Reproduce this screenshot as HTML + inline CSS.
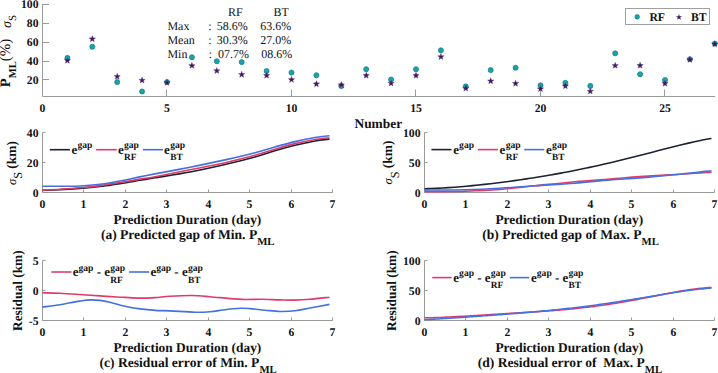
<!DOCTYPE html>
<html><head><meta charset="utf-8"><style>
html,body{margin:0;padding:0;background:#fff;}
svg{display:block;}
text{font-family:"Liberation Serif", serif;fill:#111;text-rendering:geometricPrecision;}
</style></head><body>
<svg width="718" height="373" viewBox="0 0 718 373">
<rect width="718" height="373" fill="#fff"/>
<g stroke="#9a9a9a" stroke-width="1" fill="none">
<path d="M42.5,4 V96.5 H715"/>
<path d="M42.5,79.5 H49"/>
<path d="M42.5,61.5 H49"/>
<path d="M42.5,42.5 H49"/>
<path d="M42.5,23.5 H49"/>
<path d="M42.5,4.5 H49"/>
<path d="M166.5,96.5 V89.5"/>
<path d="M291.5,96.5 V89.5"/>
<path d="M415.5,96.5 V89.5"/>
<path d="M540.5,96.5 V89.5"/>
<path d="M664.5,96.5 V89.5"/>
</g>
<text x="38.50" y="84.08" font-size="11.70" text-anchor="end" font-weight="bold">20</text>
<text x="38.50" y="65.16" font-size="11.70" text-anchor="end" font-weight="bold">40</text>
<text x="38.50" y="46.24" font-size="11.70" text-anchor="end" font-weight="bold">60</text>
<text x="38.50" y="27.32" font-size="11.70" text-anchor="end" font-weight="bold">80</text>
<text x="38.50" y="8.40" font-size="11.70" text-anchor="end" font-weight="bold">100</text>
<text x="42.50" y="112.00" font-size="11.70" text-anchor="middle" font-weight="bold">0</text>
<text x="167.00" y="112.00" font-size="11.70" text-anchor="middle" font-weight="bold">5</text>
<text x="291.50" y="112.00" font-size="11.70" text-anchor="middle" font-weight="bold">10</text>
<text x="416.00" y="112.00" font-size="11.70" text-anchor="middle" font-weight="bold">15</text>
<text x="540.50" y="112.00" font-size="11.70" text-anchor="middle" font-weight="bold">20</text>
<text x="665.00" y="112.00" font-size="11.70" text-anchor="middle" font-weight="bold">25</text>
<text x="378.30" y="128.30" font-size="13.40" text-anchor="middle" font-weight="bold">Number</text>
<g transform="translate(9.6,87.2) rotate(-90)">
<text x="0" y="0" font-size="14.5" font-weight="bold">P<tspan font-size="10.6" dy="6.4">ML</tspan><tspan dy="-6.4" font-weight="normal" font-size="15">(%)</tspan></text>
</g>
<g transform="translate(10.5,28) rotate(-90)">
<text x="0" y="0" font-size="14" font-style="italic">&#963;<tspan font-size="11" dy="5.5" font-style="normal">S</tspan></text>
</g>
<text x="228.00" y="15.60" font-size="12.00" text-anchor="start">RF</text>
<text x="273.60" y="15.60" font-size="12.00" text-anchor="start">BT</text>
<text x="167.40" y="30.10" font-size="12.00" text-anchor="start">Max</text>
<text x="208.30" y="30.10" font-size="12.00" text-anchor="start">:</text>
<text x="216.80" y="30.10" font-size="12.00" text-anchor="start">58.6%</text>
<text x="260.30" y="30.10" font-size="12.00" text-anchor="start">63.6%</text>
<text x="167.40" y="44.10" font-size="12.00" text-anchor="start">Mean</text>
<text x="208.30" y="44.10" font-size="12.00" text-anchor="start">:</text>
<text x="216.80" y="44.10" font-size="12.00" text-anchor="start">30.3%</text>
<text x="260.30" y="44.10" font-size="12.00" text-anchor="start">27.0%</text>
<text x="167.40" y="57.90" font-size="12.00" text-anchor="start">Min</text>
<text x="208.80" y="57.90" font-size="12.00" text-anchor="start">:</text>
<text x="218.00" y="57.90" font-size="12.00" text-anchor="start">07.7%</text>
<text x="261.30" y="57.90" font-size="12.00" text-anchor="start">08.6%</text>
<circle cx="67.40" cy="57.90" r="2.55" fill="#16a6aa" stroke="#0c6e74" stroke-width="0.6"/>
<circle cx="92.30" cy="46.70" r="2.55" fill="#16a6aa" stroke="#0c6e74" stroke-width="0.6"/>
<circle cx="117.20" cy="82.10" r="2.55" fill="#16a6aa" stroke="#0c6e74" stroke-width="0.6"/>
<circle cx="142.10" cy="91.50" r="2.55" fill="#16a6aa" stroke="#0c6e74" stroke-width="0.6"/>
<circle cx="167.00" cy="82.10" r="2.55" fill="#16a6aa" stroke="#0c6e74" stroke-width="0.6"/>
<circle cx="191.90" cy="57.20" r="2.55" fill="#16a6aa" stroke="#0c6e74" stroke-width="0.6"/>
<circle cx="216.80" cy="61.20" r="2.55" fill="#16a6aa" stroke="#0c6e74" stroke-width="0.6"/>
<circle cx="241.70" cy="62.10" r="2.55" fill="#16a6aa" stroke="#0c6e74" stroke-width="0.6"/>
<circle cx="266.60" cy="71.00" r="2.55" fill="#16a6aa" stroke="#0c6e74" stroke-width="0.6"/>
<circle cx="291.50" cy="72.60" r="2.55" fill="#16a6aa" stroke="#0c6e74" stroke-width="0.6"/>
<circle cx="316.40" cy="75.20" r="2.55" fill="#16a6aa" stroke="#0c6e74" stroke-width="0.6"/>
<circle cx="341.30" cy="86.10" r="2.55" fill="#16a6aa" stroke="#0c6e74" stroke-width="0.6"/>
<circle cx="366.20" cy="69.20" r="2.55" fill="#16a6aa" stroke="#0c6e74" stroke-width="0.6"/>
<circle cx="391.10" cy="79.50" r="2.55" fill="#16a6aa" stroke="#0c6e74" stroke-width="0.6"/>
<circle cx="416.00" cy="69.20" r="2.55" fill="#16a6aa" stroke="#0c6e74" stroke-width="0.6"/>
<circle cx="440.90" cy="50.30" r="2.55" fill="#16a6aa" stroke="#0c6e74" stroke-width="0.6"/>
<circle cx="465.80" cy="86.40" r="2.55" fill="#16a6aa" stroke="#0c6e74" stroke-width="0.6"/>
<circle cx="490.70" cy="70.10" r="2.55" fill="#16a6aa" stroke="#0c6e74" stroke-width="0.6"/>
<circle cx="515.60" cy="67.70" r="2.55" fill="#16a6aa" stroke="#0c6e74" stroke-width="0.6"/>
<circle cx="540.50" cy="85.30" r="2.55" fill="#16a6aa" stroke="#0c6e74" stroke-width="0.6"/>
<circle cx="565.40" cy="82.80" r="2.55" fill="#16a6aa" stroke="#0c6e74" stroke-width="0.6"/>
<circle cx="590.30" cy="85.90" r="2.55" fill="#16a6aa" stroke="#0c6e74" stroke-width="0.6"/>
<circle cx="615.20" cy="53.30" r="2.55" fill="#16a6aa" stroke="#0c6e74" stroke-width="0.6"/>
<circle cx="640.10" cy="74.20" r="2.55" fill="#16a6aa" stroke="#0c6e74" stroke-width="0.6"/>
<circle cx="665.00" cy="80.00" r="2.55" fill="#16a6aa" stroke="#0c6e74" stroke-width="0.6"/>
<circle cx="689.90" cy="59.20" r="2.55" fill="#16a6aa" stroke="#0c6e74" stroke-width="0.6"/>
<circle cx="714.80" cy="43.60" r="2.55" fill="#16a6aa" stroke="#0c6e74" stroke-width="0.6"/>
<path d="M67.40,57.30 L68.22,59.47 L70.54,59.58 L68.73,61.03 L69.34,63.27 L67.40,62.00 L65.46,63.27 L66.07,61.03 L64.26,59.58 L66.58,59.47Z" fill="#3d1a60" stroke="#5a3a80" stroke-width="0.4"/>
<path d="M92.30,35.70 L93.12,37.87 L95.44,37.98 L93.63,39.43 L94.24,41.67 L92.30,40.40 L90.36,41.67 L90.97,39.43 L89.16,37.98 L91.48,37.87Z" fill="#3d1a60" stroke="#5a3a80" stroke-width="0.4"/>
<path d="M117.20,73.30 L118.02,75.47 L120.34,75.58 L118.53,77.03 L119.14,79.27 L117.20,78.00 L115.26,79.27 L115.87,77.03 L114.06,75.58 L116.38,75.47Z" fill="#3d1a60" stroke="#5a3a80" stroke-width="0.4"/>
<path d="M142.10,77.10 L142.92,79.27 L145.24,79.38 L143.43,80.83 L144.04,83.07 L142.10,81.80 L140.16,83.07 L140.77,80.83 L138.96,79.38 L141.28,79.27Z" fill="#3d1a60" stroke="#5a3a80" stroke-width="0.4"/>
<path d="M167.00,79.30 L167.82,81.47 L170.14,81.58 L168.33,83.03 L168.94,85.27 L167.00,84.00 L165.06,85.27 L165.67,83.03 L163.86,81.58 L166.18,81.47Z" fill="#3d1a60" stroke="#5a3a80" stroke-width="0.4"/>
<path d="M191.90,62.40 L192.72,64.57 L195.04,64.68 L193.23,66.13 L193.84,68.37 L191.90,67.10 L189.96,68.37 L190.57,66.13 L188.76,64.68 L191.08,64.57Z" fill="#3d1a60" stroke="#5a3a80" stroke-width="0.4"/>
<path d="M216.80,67.50 L217.62,69.67 L219.94,69.78 L218.13,71.23 L218.74,73.47 L216.80,72.20 L214.86,73.47 L215.47,71.23 L213.66,69.78 L215.98,69.67Z" fill="#3d1a60" stroke="#5a3a80" stroke-width="0.4"/>
<path d="M241.70,71.30 L242.52,73.47 L244.84,73.58 L243.03,75.03 L243.64,77.27 L241.70,76.00 L239.76,77.27 L240.37,75.03 L238.56,73.58 L240.88,73.47Z" fill="#3d1a60" stroke="#5a3a80" stroke-width="0.4"/>
<path d="M266.60,72.20 L267.42,74.37 L269.74,74.48 L267.93,75.93 L268.54,78.17 L266.60,76.90 L264.66,78.17 L265.27,75.93 L263.46,74.48 L265.78,74.37Z" fill="#3d1a60" stroke="#5a3a80" stroke-width="0.4"/>
<path d="M291.50,76.40 L292.32,78.57 L294.64,78.68 L292.83,80.13 L293.44,82.37 L291.50,81.10 L289.56,82.37 L290.17,80.13 L288.36,78.68 L290.68,78.57Z" fill="#3d1a60" stroke="#5a3a80" stroke-width="0.4"/>
<path d="M316.40,80.70 L317.22,82.87 L319.54,82.98 L317.73,84.43 L318.34,86.67 L316.40,85.40 L314.46,86.67 L315.07,84.43 L313.26,82.98 L315.58,82.87Z" fill="#3d1a60" stroke="#5a3a80" stroke-width="0.4"/>
<path d="M341.30,81.60 L342.12,83.77 L344.44,83.88 L342.63,85.33 L343.24,87.57 L341.30,86.30 L339.36,87.57 L339.97,85.33 L338.16,83.88 L340.48,83.77Z" fill="#3d1a60" stroke="#5a3a80" stroke-width="0.4"/>
<path d="M366.20,72.20 L367.02,74.37 L369.34,74.48 L367.53,75.93 L368.14,78.17 L366.20,76.90 L364.26,78.17 L364.87,75.93 L363.06,74.48 L365.38,74.37Z" fill="#3d1a60" stroke="#5a3a80" stroke-width="0.4"/>
<path d="M391.10,80.00 L391.92,82.17 L394.24,82.28 L392.43,83.73 L393.04,85.97 L391.10,84.70 L389.16,85.97 L389.77,83.73 L387.96,82.28 L390.28,82.17Z" fill="#3d1a60" stroke="#5a3a80" stroke-width="0.4"/>
<path d="M416.00,72.20 L416.82,74.37 L419.14,74.48 L417.33,75.93 L417.94,78.17 L416.00,76.90 L414.06,78.17 L414.67,75.93 L412.86,74.48 L415.18,74.37Z" fill="#3d1a60" stroke="#5a3a80" stroke-width="0.4"/>
<path d="M440.90,53.50 L441.72,55.67 L444.04,55.78 L442.23,57.23 L442.84,59.47 L440.90,58.20 L438.96,59.47 L439.57,57.23 L437.76,55.78 L440.08,55.67Z" fill="#3d1a60" stroke="#5a3a80" stroke-width="0.4"/>
<path d="M465.80,85.10 L466.62,87.27 L468.94,87.38 L467.13,88.83 L467.74,91.07 L465.80,89.80 L463.86,91.07 L464.47,88.83 L462.66,87.38 L464.98,87.27Z" fill="#3d1a60" stroke="#5a3a80" stroke-width="0.4"/>
<path d="M490.70,77.80 L491.52,79.97 L493.84,80.08 L492.03,81.53 L492.64,83.77 L490.70,82.50 L488.76,83.77 L489.37,81.53 L487.56,80.08 L489.88,79.97Z" fill="#3d1a60" stroke="#5a3a80" stroke-width="0.4"/>
<path d="M515.60,80.20 L516.42,82.37 L518.74,82.48 L516.93,83.93 L517.54,86.17 L515.60,84.90 L513.66,86.17 L514.27,83.93 L512.46,82.48 L514.78,82.37Z" fill="#3d1a60" stroke="#5a3a80" stroke-width="0.4"/>
<path d="M540.50,85.60 L541.32,87.77 L543.64,87.88 L541.83,89.33 L542.44,91.57 L540.50,90.30 L538.56,91.57 L539.17,89.33 L537.36,87.88 L539.68,87.77Z" fill="#3d1a60" stroke="#5a3a80" stroke-width="0.4"/>
<path d="M565.40,82.70 L566.22,84.87 L568.54,84.98 L566.73,86.43 L567.34,88.67 L565.40,87.40 L563.46,88.67 L564.07,86.43 L562.26,84.98 L564.58,84.87Z" fill="#3d1a60" stroke="#5a3a80" stroke-width="0.4"/>
<path d="M590.30,88.00 L591.12,90.17 L593.44,90.28 L591.63,91.73 L592.24,93.97 L590.30,92.70 L588.36,93.97 L588.97,91.73 L587.16,90.28 L589.48,90.17Z" fill="#3d1a60" stroke="#5a3a80" stroke-width="0.4"/>
<path d="M615.20,62.30 L616.02,64.47 L618.34,64.58 L616.53,66.03 L617.14,68.27 L615.20,67.00 L613.26,68.27 L613.87,66.03 L612.06,64.58 L614.38,64.47Z" fill="#3d1a60" stroke="#5a3a80" stroke-width="0.4"/>
<path d="M640.10,62.20 L640.92,64.37 L643.24,64.48 L641.43,65.93 L642.04,68.17 L640.10,66.90 L638.16,68.17 L638.77,65.93 L636.96,64.48 L639.28,64.37Z" fill="#3d1a60" stroke="#5a3a80" stroke-width="0.4"/>
<path d="M665.00,80.20 L665.82,82.37 L668.14,82.48 L666.33,83.93 L666.94,86.17 L665.00,84.90 L663.06,86.17 L663.67,83.93 L661.86,82.48 L664.18,82.37Z" fill="#3d1a60" stroke="#5a3a80" stroke-width="0.4"/>
<path d="M689.90,56.40 L690.72,58.57 L693.04,58.68 L691.23,60.13 L691.84,62.37 L689.90,61.10 L687.96,62.37 L688.57,60.13 L686.76,58.68 L689.08,58.57Z" fill="#3d1a60" stroke="#5a3a80" stroke-width="0.4"/>
<path d="M714.80,40.80 L715.62,42.97 L717.94,43.08 L716.13,44.53 L716.74,46.77 L714.80,45.50 L712.86,46.77 L713.47,44.53 L711.66,43.08 L713.98,42.97Z" fill="#3d1a60" stroke="#5a3a80" stroke-width="0.4"/>
<rect x="625.5" y="8.5" width="84" height="16" fill="#fff" stroke="#a0a0a0" stroke-width="1"/>
<circle cx="637.2" cy="16.9" r="2.3" fill="#16a6aa" stroke="#0c6e74" stroke-width="0.6"/>
<text x="649.40" y="21.20" font-size="11.70" text-anchor="start" font-weight="bold">RF</text>
<path d="M679.00,14.00 L679.76,16.15 L682.04,16.21 L680.24,17.60 L680.88,19.79 L679.00,18.50 L677.12,19.79 L677.76,17.60 L675.96,16.21 L678.24,16.15Z" fill="#3d1a60"/>
<text x="691.00" y="21.20" font-size="11.70" text-anchor="start" font-weight="bold">BT</text>
<g stroke="#9a9a9a" stroke-width="1" fill="none">
<path d="M42.5,132.5 V192.5 H332.5"/>
<path d="M42.5,192.5 H45.5"/>
<path d="M42.5,162.5 H45.5"/>
<path d="M42.5,132.5 H45.5"/>
<path d="M42.5,192.5 V189.5"/>
<path d="M83.5,192.5 V189.5"/>
<path d="M125.5,192.5 V189.5"/>
<path d="M166.5,192.5 V189.5"/>
<path d="M208.5,192.5 V189.5"/>
<path d="M249.5,192.5 V189.5"/>
<path d="M291.5,192.5 V189.5"/>
<path d="M332.5,192.5 V189.5"/>
</g>
<text x="38.50" y="196.70" font-size="11.70" text-anchor="end" font-weight="bold">0</text>
<text x="38.50" y="166.70" font-size="11.70" text-anchor="end" font-weight="bold">20</text>
<text x="38.50" y="136.70" font-size="11.70" text-anchor="end" font-weight="bold">40</text>
<text x="42.50" y="207.80" font-size="11.70" text-anchor="middle" font-weight="bold">0</text>
<text x="83.50" y="207.80" font-size="11.70" text-anchor="middle" font-weight="bold">1</text>
<text x="125.50" y="207.80" font-size="11.70" text-anchor="middle" font-weight="bold">2</text>
<text x="166.50" y="207.80" font-size="11.70" text-anchor="middle" font-weight="bold">3</text>
<text x="208.50" y="207.80" font-size="11.70" text-anchor="middle" font-weight="bold">4</text>
<text x="249.50" y="207.80" font-size="11.70" text-anchor="middle" font-weight="bold">5</text>
<text x="291.50" y="207.80" font-size="11.70" text-anchor="middle" font-weight="bold">6</text>
<text x="332.50" y="207.80" font-size="11.70" text-anchor="middle" font-weight="bold">7</text>
<path d="M42.40,190.40 C45.33,190.30 53.73,190.13 60.00,189.80 C66.27,189.47 73.33,188.97 80.00,188.40 C86.67,187.83 93.33,187.20 100.00,186.40 C106.67,185.60 113.33,184.62 120.00,183.60 C126.67,182.58 134.17,181.27 140.00,180.30 C145.83,179.33 146.67,179.18 155.00,177.80 C163.33,176.42 178.33,174.22 190.00,172.00 C201.67,169.78 214.17,167.00 225.00,164.50 C235.83,162.00 246.67,159.28 255.00,157.00 C263.33,154.72 268.33,152.75 275.00,150.80 C281.67,148.85 288.33,146.93 295.00,145.30 C301.67,143.67 309.25,142.03 315.00,141.00 C320.75,139.97 327.08,139.42 329.50,139.10" fill="none" stroke="#1b2130" stroke-width="1.60" stroke-linecap="butt"/>
<path d="M42.40,190.10 C45.33,189.95 53.73,189.58 60.00,189.20 C66.27,188.82 73.33,188.40 80.00,187.80 C86.67,187.20 93.33,186.48 100.00,185.60 C106.67,184.72 113.33,183.58 120.00,182.50 C126.67,181.42 134.17,180.07 140.00,179.10 C145.83,178.13 146.67,178.25 155.00,176.70 C163.33,175.15 178.33,172.13 190.00,169.80 C201.67,167.47 214.17,165.12 225.00,162.70 C235.83,160.28 246.67,157.55 255.00,155.30 C263.33,153.05 268.33,151.15 275.00,149.20 C281.67,147.25 288.33,145.22 295.00,143.60 C301.67,141.98 309.25,140.47 315.00,139.50 C320.75,138.53 327.08,138.08 329.50,137.80" fill="none" stroke="#e03a6a" stroke-width="1.60" stroke-linecap="butt"/>
<path d="M42.40,186.20 C45.33,186.22 53.73,186.33 60.00,186.30 C66.27,186.27 73.33,186.35 80.00,186.00 C86.67,185.65 93.33,185.03 100.00,184.20 C106.67,183.37 113.33,182.22 120.00,181.00 C126.67,179.78 134.17,178.08 140.00,176.90 C145.83,175.72 146.67,175.52 155.00,173.90 C163.33,172.28 178.33,169.53 190.00,167.20 C201.67,164.87 214.17,162.32 225.00,159.90 C235.83,157.48 246.67,154.87 255.00,152.70 C263.33,150.53 268.33,148.75 275.00,146.90 C281.67,145.05 288.33,143.17 295.00,141.60 C301.67,140.03 309.25,138.47 315.00,137.50 C320.75,136.53 327.08,136.08 329.50,135.80" fill="none" stroke="#4470e0" stroke-width="1.60" stroke-linecap="butt"/>
<g stroke="#9a9a9a" stroke-width="1" fill="none">
<path d="M424.5,132.5 V192.5 H714.5"/>
<path d="M424.5,192.5 H427.5"/>
<path d="M424.5,162.5 H427.5"/>
<path d="M424.5,132.5 H427.5"/>
<path d="M424.5,192.5 V189.5"/>
<path d="M465.5,192.5 V189.5"/>
<path d="M507.5,192.5 V189.5"/>
<path d="M548.5,192.5 V189.5"/>
<path d="M590.5,192.5 V189.5"/>
<path d="M631.5,192.5 V189.5"/>
<path d="M673.5,192.5 V189.5"/>
<path d="M714.5,192.5 V189.5"/>
</g>
<text x="420.50" y="196.70" font-size="11.70" text-anchor="end" font-weight="bold">0</text>
<text x="420.50" y="166.70" font-size="11.70" text-anchor="end" font-weight="bold">50</text>
<text x="420.50" y="136.70" font-size="11.70" text-anchor="end" font-weight="bold">100</text>
<text x="424.50" y="207.80" font-size="11.70" text-anchor="middle" font-weight="bold">0</text>
<text x="465.50" y="207.80" font-size="11.70" text-anchor="middle" font-weight="bold">1</text>
<text x="507.50" y="207.80" font-size="11.70" text-anchor="middle" font-weight="bold">2</text>
<text x="548.50" y="207.80" font-size="11.70" text-anchor="middle" font-weight="bold">3</text>
<text x="590.50" y="207.80" font-size="11.70" text-anchor="middle" font-weight="bold">4</text>
<text x="631.50" y="207.80" font-size="11.70" text-anchor="middle" font-weight="bold">5</text>
<text x="673.50" y="207.80" font-size="11.70" text-anchor="middle" font-weight="bold">6</text>
<text x="714.50" y="207.80" font-size="11.70" text-anchor="middle" font-weight="bold">7</text>
<path d="M424.50,188.71 C425.50,188.68 428.50,188.62 430.50,188.56 C432.50,188.49 434.50,188.41 436.50,188.33 C438.50,188.24 440.50,188.13 442.50,188.02 C444.50,187.91 446.50,187.79 448.50,187.65 C450.50,187.52 452.50,187.38 454.50,187.23 C456.50,187.08 458.50,186.92 460.50,186.75 C462.50,186.58 464.50,186.41 466.50,186.22 C468.50,186.04 470.50,185.85 472.50,185.65 C474.50,185.45 476.50,185.25 478.50,185.04 C480.50,184.83 482.50,184.61 484.50,184.39 C486.50,184.17 488.50,183.94 490.50,183.70 C492.50,183.47 494.50,183.22 496.50,182.98 C498.50,182.73 500.50,182.48 502.50,182.22 C504.50,181.96 506.50,181.70 508.50,181.43 C510.50,181.16 512.50,180.89 514.50,180.61 C516.50,180.33 518.50,180.05 520.50,179.75 C522.50,179.46 524.50,179.17 526.50,178.87 C528.50,178.56 530.50,178.26 532.50,177.94 C534.50,177.63 536.50,177.31 538.50,176.99 C540.50,176.66 542.50,176.33 544.50,176.00 C546.50,175.66 548.50,175.32 550.50,174.97 C552.50,174.62 554.50,174.27 556.50,173.91 C558.50,173.55 560.50,173.18 562.50,172.81 C564.50,172.44 566.50,172.06 568.50,171.67 C570.50,171.29 572.50,170.90 574.50,170.50 C576.50,170.10 578.50,169.70 580.50,169.29 C582.50,168.88 584.50,168.46 586.50,168.04 C588.50,167.61 590.50,167.18 592.50,166.75 C594.50,166.31 596.50,165.87 598.50,165.42 C600.50,164.97 602.50,164.52 604.50,164.06 C606.50,163.60 608.50,163.13 610.50,162.66 C612.50,162.19 614.50,161.71 616.50,161.23 C618.50,160.75 620.50,160.26 622.50,159.77 C624.50,159.28 626.50,158.78 628.50,158.28 C630.50,157.78 632.50,157.28 634.50,156.77 C636.50,156.26 638.50,155.75 640.50,155.24 C642.50,154.73 644.50,154.21 646.50,153.70 C648.50,153.18 650.50,152.66 652.50,152.15 C654.50,151.63 656.50,151.11 658.50,150.59 C660.50,150.08 662.50,149.56 664.50,149.05 C666.50,148.54 668.50,148.03 670.50,147.52 C672.50,147.02 674.50,146.52 676.50,146.02 C678.50,145.53 680.50,145.04 682.50,144.56 C684.50,144.08 686.50,143.60 688.50,143.14 C690.50,142.68 692.50,142.23 694.50,141.79 C696.50,141.35 698.50,140.92 700.50,140.51 C702.50,140.10 704.67,139.67 706.50,139.33 C708.33,138.98 710.67,138.57 711.50,138.42" fill="none" stroke="#1b2130" stroke-width="1.60" stroke-linecap="butt"/>
<path d="M424.50,191.70 C431.33,191.62 452.92,191.57 465.50,191.20 C478.08,190.83 488.42,190.40 500.00,189.50 C511.58,188.60 522.50,187.10 535.00,185.80 C547.50,184.50 562.50,182.82 575.00,181.70 C587.50,180.58 599.17,179.95 610.00,179.10 C620.83,178.25 628.33,177.42 640.00,176.60 C651.67,175.78 668.08,174.95 680.00,174.20 C691.92,173.45 706.25,172.45 711.50,172.10" fill="none" stroke="#e03a6a" stroke-width="1.60" stroke-linecap="butt"/>
<path d="M424.50,190.10 C431.33,190.03 452.92,190.02 465.50,189.70 C478.08,189.38 488.42,188.85 500.00,188.20 C511.58,187.55 522.50,186.63 535.00,185.80 C547.50,184.97 562.50,184.18 575.00,183.20 C587.50,182.22 599.17,180.78 610.00,179.90 C620.83,179.02 628.33,178.85 640.00,177.90 C651.67,176.95 668.08,175.40 680.00,174.20 C691.92,173.00 706.25,171.28 711.50,170.70" fill="none" stroke="#4470e0" stroke-width="1.60" stroke-linecap="butt"/>
<g stroke="#9a9a9a" stroke-width="1" fill="none">
<path d="M42.5,260.5 V320.5 H332.5"/>
<path d="M42.5,260.5 H45.5"/>
<path d="M42.5,290.5 H45.5"/>
<path d="M42.5,320.5 H45.5"/>
<path d="M42.5,320.5 V317.5"/>
<path d="M83.5,320.5 V317.5"/>
<path d="M125.5,320.5 V317.5"/>
<path d="M166.5,320.5 V317.5"/>
<path d="M208.5,320.5 V317.5"/>
<path d="M249.5,320.5 V317.5"/>
<path d="M291.5,320.5 V317.5"/>
<path d="M332.5,320.5 V317.5"/>
</g>
<text x="38.50" y="264.70" font-size="11.70" text-anchor="end" font-weight="bold">5</text>
<text x="38.50" y="294.70" font-size="11.70" text-anchor="end" font-weight="bold">0</text>
<text x="38.50" y="324.70" font-size="11.70" text-anchor="end" font-weight="bold">-5</text>
<text x="42.50" y="336.00" font-size="11.70" text-anchor="middle" font-weight="bold">0</text>
<text x="83.50" y="336.00" font-size="11.70" text-anchor="middle" font-weight="bold">1</text>
<text x="125.50" y="336.00" font-size="11.70" text-anchor="middle" font-weight="bold">2</text>
<text x="166.50" y="336.00" font-size="11.70" text-anchor="middle" font-weight="bold">3</text>
<text x="208.50" y="336.00" font-size="11.70" text-anchor="middle" font-weight="bold">4</text>
<text x="249.50" y="336.00" font-size="11.70" text-anchor="middle" font-weight="bold">5</text>
<text x="291.50" y="336.00" font-size="11.70" text-anchor="middle" font-weight="bold">6</text>
<text x="332.50" y="336.00" font-size="11.70" text-anchor="middle" font-weight="bold">7</text>
<path d="M42.40,292.80 C45.33,292.88 53.73,293.02 60.00,293.30 C66.27,293.58 73.33,294.07 80.00,294.50 C86.67,294.93 93.83,295.48 100.00,295.90 C106.17,296.32 112.83,296.75 117.00,297.00 C121.17,297.25 121.17,297.22 125.00,297.40 C128.83,297.58 135.00,298.07 140.00,298.10 C145.00,298.13 150.00,297.92 155.00,297.60 C160.00,297.28 163.83,296.55 170.00,296.20 C176.17,295.85 185.33,295.42 192.00,295.50 C198.67,295.58 203.67,296.18 210.00,296.70 C216.33,297.22 224.17,298.13 230.00,298.60 C235.83,299.07 239.67,299.38 245.00,299.50 C250.33,299.62 256.17,299.23 262.00,299.30 C267.83,299.37 274.50,299.77 280.00,299.90 C285.50,300.03 290.00,300.20 295.00,300.10 C300.00,300.00 304.25,299.78 310.00,299.30 C315.75,298.82 326.25,297.55 329.50,297.20" fill="none" stroke="#e03a6a" stroke-width="1.60" stroke-linecap="butt"/>
<path d="M42.40,307.10 C45.33,306.70 55.40,305.42 60.00,304.70 C64.60,303.98 66.67,303.40 70.00,302.80 C73.33,302.20 76.67,301.58 80.00,301.10 C83.33,300.62 86.67,300.02 90.00,299.90 C93.33,299.78 96.67,300.00 100.00,300.40 C103.33,300.80 105.83,301.32 110.00,302.30 C114.17,303.28 120.00,305.20 125.00,306.30 C130.00,307.40 135.00,308.22 140.00,308.90 C145.00,309.58 150.00,310.07 155.00,310.40 C160.00,310.73 163.33,310.60 170.00,310.90 C176.67,311.20 188.33,312.07 195.00,312.20 C201.67,312.33 205.00,312.12 210.00,311.70 C215.00,311.28 220.00,310.27 225.00,309.70 C230.00,309.13 235.83,308.48 240.00,308.30 C244.17,308.12 245.83,308.28 250.00,308.60 C254.17,308.92 260.00,309.72 265.00,310.20 C270.00,310.68 275.00,311.40 280.00,311.50 C285.00,311.60 290.00,311.38 295.00,310.80 C300.00,310.22 304.25,309.07 310.00,308.00 C315.75,306.93 326.25,305.00 329.50,304.40" fill="none" stroke="#4470e0" stroke-width="1.60" stroke-linecap="butt"/>
<g stroke="#9a9a9a" stroke-width="1" fill="none">
<path d="M424.5,260.5 V320.5 H714.5"/>
<path d="M424.5,260.5 H427.5"/>
<path d="M424.5,290.5 H427.5"/>
<path d="M424.5,320.5 H427.5"/>
<path d="M424.5,320.5 V317.5"/>
<path d="M465.5,320.5 V317.5"/>
<path d="M507.5,320.5 V317.5"/>
<path d="M548.5,320.5 V317.5"/>
<path d="M590.5,320.5 V317.5"/>
<path d="M631.5,320.5 V317.5"/>
<path d="M673.5,320.5 V317.5"/>
<path d="M714.5,320.5 V317.5"/>
</g>
<text x="420.50" y="264.70" font-size="11.70" text-anchor="end" font-weight="bold">100</text>
<text x="420.50" y="294.70" font-size="11.70" text-anchor="end" font-weight="bold">50</text>
<text x="420.50" y="324.70" font-size="11.70" text-anchor="end" font-weight="bold">0</text>
<text x="424.50" y="336.00" font-size="11.70" text-anchor="middle" font-weight="bold">0</text>
<text x="465.50" y="336.00" font-size="11.70" text-anchor="middle" font-weight="bold">1</text>
<text x="507.50" y="336.00" font-size="11.70" text-anchor="middle" font-weight="bold">2</text>
<text x="548.50" y="336.00" font-size="11.70" text-anchor="middle" font-weight="bold">3</text>
<text x="590.50" y="336.00" font-size="11.70" text-anchor="middle" font-weight="bold">4</text>
<text x="631.50" y="336.00" font-size="11.70" text-anchor="middle" font-weight="bold">5</text>
<text x="673.50" y="336.00" font-size="11.70" text-anchor="middle" font-weight="bold">6</text>
<text x="714.50" y="336.00" font-size="11.70" text-anchor="middle" font-weight="bold">7</text>
<path d="M424.50,317.81 C425.17,317.81 427.17,317.79 428.50,317.77 C429.83,317.75 431.17,317.72 432.50,317.69 C433.83,317.65 435.17,317.61 436.50,317.57 C437.83,317.53 439.17,317.48 440.50,317.43 C441.83,317.37 443.17,317.32 444.50,317.26 C445.83,317.20 447.17,317.13 448.50,317.07 C449.83,317.00 451.17,316.93 452.50,316.86 C453.83,316.79 455.17,316.72 456.50,316.65 C457.83,316.57 459.17,316.50 460.50,316.42 C461.83,316.34 463.17,316.26 464.50,316.18 C465.83,316.10 467.17,316.02 468.50,315.94 C469.83,315.86 471.17,315.78 472.50,315.70 C473.83,315.61 475.17,315.53 476.50,315.45 C477.83,315.37 479.17,315.28 480.50,315.20 C481.83,315.12 483.17,315.04 484.50,314.95 C485.83,314.87 487.17,314.79 488.50,314.71 C489.83,314.62 491.17,314.54 492.50,314.46 C493.83,314.38 495.17,314.29 496.50,314.21 C497.83,314.13 499.17,314.05 500.50,313.97 C501.83,313.89 503.17,313.81 504.50,313.72 C505.83,313.64 507.17,313.56 508.50,313.48 C509.83,313.40 511.17,313.32 512.50,313.24 C513.83,313.16 515.17,313.08 516.50,312.99 C517.83,312.91 519.17,312.83 520.50,312.75 C521.83,312.67 523.17,312.58 524.50,312.50 C525.83,312.42 527.17,312.33 528.50,312.25 C529.83,312.16 531.17,312.08 532.50,311.99 C533.83,311.90 535.17,311.81 536.50,311.73 C537.83,311.64 539.17,311.55 540.50,311.45 C541.83,311.36 543.17,311.27 544.50,311.17 C545.83,311.08 547.17,310.98 548.50,310.88 C549.83,310.78 551.17,310.68 552.50,310.58 C553.83,310.47 555.17,310.37 556.50,310.26 C557.83,310.15 559.17,310.04 560.50,309.93 C561.83,309.82 563.17,309.70 564.50,309.58 C565.83,309.46 567.17,309.34 568.50,309.22 C569.83,309.09 571.17,308.96 572.50,308.83 C573.83,308.70 575.17,308.57 576.50,308.43 C577.83,308.29 579.17,308.15 580.50,308.00 C581.83,307.86 583.17,307.71 584.50,307.56 C585.83,307.40 587.17,307.25 588.50,307.09 C589.83,306.93 591.17,306.76 592.50,306.59 C593.83,306.42 595.17,306.25 596.50,306.08 C597.83,305.90 599.17,305.72 600.50,305.53 C601.83,305.35 603.17,305.16 604.50,304.97 C605.83,304.77 607.17,304.58 608.50,304.37 C609.83,304.17 611.17,303.97 612.50,303.76 C613.83,303.55 615.17,303.34 616.50,303.12 C617.83,302.90 619.17,302.68 620.50,302.45 C621.83,302.23 623.17,302.00 624.50,301.77 C625.83,301.54 627.17,301.30 628.50,301.06 C629.83,300.82 631.17,300.58 632.50,300.33 C633.83,300.09 635.17,299.84 636.50,299.59 C637.83,299.34 639.17,299.09 640.50,298.83 C641.83,298.58 643.17,298.32 644.50,298.06 C645.83,297.80 647.17,297.54 648.50,297.28 C649.83,297.02 651.17,296.75 652.50,296.49 C653.83,296.23 655.17,295.96 656.50,295.70 C657.83,295.43 659.17,295.17 660.50,294.91 C661.83,294.65 663.17,294.38 664.50,294.12 C665.83,293.86 667.17,293.60 668.50,293.35 C669.83,293.09 671.17,292.84 672.50,292.59 C673.83,292.34 675.17,292.10 676.50,291.86 C677.83,291.62 679.17,291.38 680.50,291.15 C681.83,290.92 683.17,290.70 684.50,290.48 C685.83,290.26 687.17,290.05 688.50,289.85 C689.83,289.65 691.17,289.45 692.50,289.27 C693.83,289.09 695.17,288.91 696.50,288.75 C697.83,288.59 699.17,288.44 700.50,288.30 C701.83,288.16 703.17,288.04 704.50,287.93 C705.83,287.82 707.33,287.72 708.50,287.64 C709.67,287.57 711.00,287.52 711.50,287.50" fill="none" stroke="#e03a6a" stroke-width="1.60" stroke-linecap="butt"/>
<path d="M424.50,319.69 C425.17,319.65 427.17,319.56 428.50,319.49 C429.83,319.42 431.17,319.34 432.50,319.27 C433.83,319.20 435.17,319.12 436.50,319.04 C437.83,318.97 439.17,318.89 440.50,318.81 C441.83,318.72 443.17,318.64 444.50,318.56 C445.83,318.47 447.17,318.39 448.50,318.30 C449.83,318.22 451.17,318.13 452.50,318.04 C453.83,317.95 455.17,317.86 456.50,317.77 C457.83,317.68 459.17,317.59 460.50,317.50 C461.83,317.41 463.17,317.32 464.50,317.22 C465.83,317.13 467.17,317.04 468.50,316.94 C469.83,316.85 471.17,316.76 472.50,316.66 C473.83,316.56 475.17,316.47 476.50,316.37 C477.83,316.28 479.17,316.18 480.50,316.08 C481.83,315.99 483.17,315.89 484.50,315.79 C485.83,315.69 487.17,315.59 488.50,315.50 C489.83,315.40 491.17,315.30 492.50,315.20 C493.83,315.10 495.17,315.00 496.50,314.90 C497.83,314.79 499.17,314.69 500.50,314.59 C501.83,314.49 503.17,314.39 504.50,314.28 C505.83,314.18 507.17,314.07 508.50,313.97 C509.83,313.86 511.17,313.76 512.50,313.65 C513.83,313.55 515.17,313.44 516.50,313.33 C517.83,313.22 519.17,313.11 520.50,313.00 C521.83,312.89 523.17,312.78 524.50,312.67 C525.83,312.56 527.17,312.44 528.50,312.33 C529.83,312.21 531.17,312.10 532.50,311.98 C533.83,311.86 535.17,311.74 536.50,311.62 C537.83,311.50 539.17,311.38 540.50,311.26 C541.83,311.13 543.17,311.01 544.50,310.88 C545.83,310.76 547.17,310.63 548.50,310.50 C549.83,310.37 551.17,310.24 552.50,310.10 C553.83,309.97 555.17,309.83 556.50,309.70 C557.83,309.56 559.17,309.42 560.50,309.28 C561.83,309.14 563.17,308.99 564.50,308.85 C565.83,308.70 567.17,308.56 568.50,308.41 C569.83,308.26 571.17,308.10 572.50,307.95 C573.83,307.80 575.17,307.64 576.50,307.48 C577.83,307.32 579.17,307.16 580.50,307.00 C581.83,306.83 583.17,306.67 584.50,306.50 C585.83,306.33 587.17,306.16 588.50,305.99 C589.83,305.81 591.17,305.64 592.50,305.46 C593.83,305.28 595.17,305.10 596.50,304.92 C597.83,304.74 599.17,304.55 600.50,304.36 C601.83,304.18 603.17,303.99 604.50,303.79 C605.83,303.60 607.17,303.41 608.50,303.21 C609.83,303.01 611.17,302.82 612.50,302.61 C613.83,302.41 615.17,302.21 616.50,302.01 C617.83,301.80 619.17,301.59 620.50,301.38 C621.83,301.18 623.17,300.96 624.50,300.75 C625.83,300.54 627.17,300.33 628.50,300.11 C629.83,299.89 631.17,299.68 632.50,299.46 C633.83,299.24 635.17,299.02 636.50,298.80 C637.83,298.58 639.17,298.36 640.50,298.13 C641.83,297.91 643.17,297.69 644.50,297.46 C645.83,297.24 647.17,297.02 648.50,296.79 C649.83,296.57 651.17,296.34 652.50,296.12 C653.83,295.90 655.17,295.67 656.50,295.45 C657.83,295.22 659.17,295.00 660.50,294.78 C661.83,294.56 663.17,294.34 664.50,294.12 C665.83,293.90 667.17,293.68 668.50,293.47 C669.83,293.25 671.17,293.04 672.50,292.83 C673.83,292.62 675.17,292.41 676.50,292.21 C677.83,292.00 679.17,291.80 680.50,291.60 C681.83,291.41 683.17,291.21 684.50,291.03 C685.83,290.84 687.17,290.65 688.50,290.47 C689.83,290.29 691.17,290.12 692.50,289.95 C693.83,289.79 695.17,289.62 696.50,289.47 C697.83,289.31 699.17,289.17 700.50,289.03 C701.83,288.89 703.17,288.75 704.50,288.63 C705.83,288.51 707.33,288.38 708.50,288.28 C709.67,288.19 711.00,288.10 711.50,288.06" fill="none" stroke="#4470e0" stroke-width="1.60" stroke-linecap="butt"/>
<text x="187.40" y="224.00" font-size="13.40" text-anchor="middle" font-weight="bold">Prediction Duration (day)</text>
<text x="187.40" y="352.00" font-size="13.40" text-anchor="middle" font-weight="bold">Prediction Duration (day)</text>
<text x="569.30" y="224.00" font-size="13.40" text-anchor="middle" font-weight="bold">Prediction Duration (day)</text>
<text x="569.30" y="352.00" font-size="13.40" text-anchor="middle" font-weight="bold">Prediction Duration (day)</text>
<text x="100.9" y="239" font-size="13.55" font-weight="bold">(a) Predicted gap of Min. P<tspan font-size="10.8" dy="6.3">ML</tspan></text>
<text x="482.3" y="239" font-size="13.55" font-weight="bold">(b) Predicted gap of Max. P<tspan font-size="10.8" dy="6.3">ML</tspan></text>
<text x="99.6" y="367" font-size="13.55" font-weight="bold">(c) Residual error of Min. P<tspan font-size="10.8" dy="6.3">ML</tspan></text>
<text x="477.8" y="367" font-size="13.55" font-weight="bold" style="white-space:pre" xml:space="preserve">(d) Residual error of  Max. P<tspan font-size="10.8" dy="6.3">ML</tspan></text>
<g transform="translate(15.6,185.0) rotate(-90)"><text x="0" y="0" font-size="13.4" font-weight="bold"><tspan font-style="italic" font-weight="normal" font-size="12.5">&#963;</tspan><tspan font-size="12.3" font-weight="normal" dy="6.4">S</tspan><tspan dy="-6.4"> (km)</tspan></text></g>
<g transform="translate(392.2,184.5) rotate(-90)"><text x="0" y="0" font-size="13.4" font-weight="bold"><tspan font-style="italic" font-weight="normal" font-size="12.5">&#963;</tspan><tspan font-size="12.3" font-weight="normal" dy="6.4">S</tspan><tspan dy="-6.4"> (km)</tspan></text></g>
<g transform="translate(22.3,331.0) rotate(-90)"><text x="0" y="0" font-size="13.4" font-weight="bold">Residual (km)</text></g>
<g transform="translate(396.0,331.0) rotate(-90)"><text x="0" y="0" font-size="13.4" font-weight="bold">Residual (km)</text></g>
<path d="M49.8,149.7 H69.9" stroke="#1b2130" stroke-width="1.6"/>
<text x="71.6" y="153.9" font-size="13" font-weight="bold">e<tspan font-size="9.6" dy="-5.5">gap</tspan></text>
<path d="M96.1,149.7 H116.7" stroke="#e03a6a" stroke-width="1.6"/>
<text x="117.9" y="153.9" font-size="13" font-weight="bold">e</text>
<text x="124.0" y="148.3" font-size="9.6" font-weight="bold">gap</text>
<text x="124.0" y="160.4" font-size="9.4" font-weight="bold">RF</text>
<path d="M142.9,149.7 H163.0" stroke="#4470e0" stroke-width="1.6"/>
<text x="164.1" y="153.9" font-size="13" font-weight="bold">e</text>
<text x="170.2" y="148.3" font-size="9.6" font-weight="bold">gap</text>
<text x="170.2" y="160.4" font-size="9.4" font-weight="bold">BT</text>
<path d="M431.4,149.6 H451.5" stroke="#1b2130" stroke-width="1.6"/>
<text x="453.3" y="153.8" font-size="13" font-weight="bold">e<tspan font-size="9.6" dy="-5.5">gap</tspan></text>
<path d="M477.8,149.6 H497.9" stroke="#e03a6a" stroke-width="1.6"/>
<text x="499.6" y="153.8" font-size="13" font-weight="bold">e</text>
<text x="505.7" y="148.2" font-size="9.6" font-weight="bold">gap</text>
<text x="505.7" y="160.3" font-size="9.4" font-weight="bold">RF</text>
<path d="M524.2,149.6 H544.3" stroke="#4470e0" stroke-width="1.6"/>
<text x="546.0" y="153.8" font-size="13" font-weight="bold">e</text>
<text x="552.1" y="148.2" font-size="9.6" font-weight="bold">gap</text>
<text x="552.1" y="160.3" font-size="9.4" font-weight="bold">BT</text>
<path d="M51.4,272.0 H71.4" stroke="#e03a6a" stroke-width="1.6"/>
<text x="72.7" y="276.2" font-size="13" font-weight="bold">e<tspan font-size="9.6" dy="-5.5">gap</tspan><tspan dy="5.5"> - e</tspan></text>
<text x="110.2" y="270.6" font-size="9.6" font-weight="bold">gap</text>
<text x="110.2" y="282.7" font-size="9.4" font-weight="bold">RF</text>
<path d="M129.1,272.0 H149.2" stroke="#4470e0" stroke-width="1.6"/>
<text x="150.4" y="276.2" font-size="13" font-weight="bold">e<tspan font-size="9.6" dy="-5.5">gap</tspan><tspan dy="5.5"> - e</tspan></text>
<text x="187.9" y="270.6" font-size="9.6" font-weight="bold">gap</text>
<text x="187.9" y="282.7" font-size="9.4" font-weight="bold">BT</text>
<path d="M432.2,277.6 H451.5" stroke="#e03a6a" stroke-width="1.6"/>
<text x="453.3" y="281.8" font-size="13" font-weight="bold">e<tspan font-size="9.6" dy="-5.5">gap</tspan><tspan dy="5.5"> - e</tspan></text>
<text x="490.8" y="276.2" font-size="9.6" font-weight="bold">gap</text>
<text x="490.8" y="288.3" font-size="9.4" font-weight="bold">RF</text>
<path d="M509.9,277.6 H529.2" stroke="#4470e0" stroke-width="1.6"/>
<text x="531.0" y="281.8" font-size="13" font-weight="bold">e<tspan font-size="9.6" dy="-5.5">gap</tspan><tspan dy="5.5"> - e</tspan></text>
<text x="568.5" y="276.2" font-size="9.6" font-weight="bold">gap</text>
<text x="568.5" y="288.3" font-size="9.4" font-weight="bold">BT</text>
</svg>
</body></html>
